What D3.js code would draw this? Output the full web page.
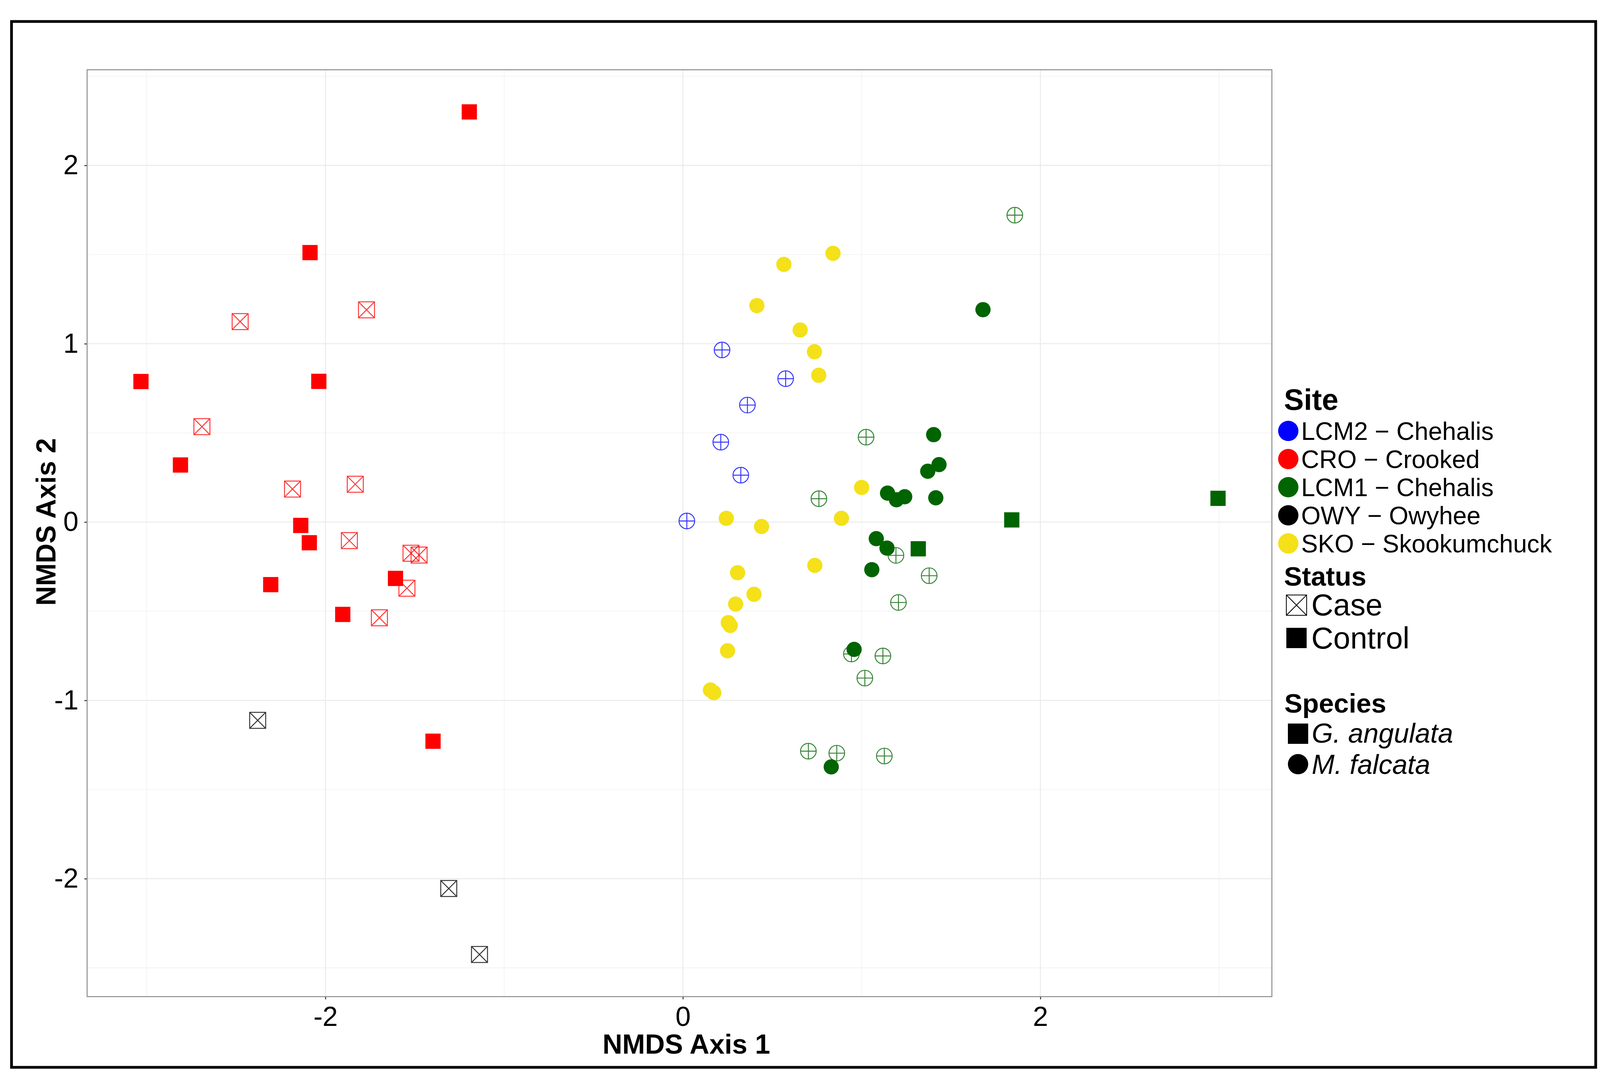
<!DOCTYPE html>
<html>
<head>
<meta charset="utf-8">
<script src="https://cdn.jsdelivr.net/npm/d3@7/dist/d3.min.js"></script>
<style>
  body { margin: 0; background: #fff; }
  text { font-family: "Liberation Sans", Arial, Helvetica, sans-serif; }
</style>
</head>
<body>
<script>
// NMDS scores, one array per site / status / species group
var croControlGa = [
  [-1.195, 2.300], [-2.086, 1.511], [-3.032, 0.788], [-2.037, 0.789], [-2.811, 0.320],
  [-2.138, -0.019], [-2.090, -0.116], [-2.306, -0.351], [-1.608, -0.316], [-1.903, -0.518],
  [-1.398, -1.229]
];
var croCaseGa = [
  [-2.477, 1.124], [-1.770, 1.190], [-2.691, 0.535], [-2.184, 0.185], [-1.833, 0.212],
  [-1.866, -0.104], [-1.521, -0.175], [-1.476, -0.185], [-1.544, -0.371], [-1.698, -0.537]
];
var owyCaseGa = [[-2.379, -1.112], [-1.310, -2.055], [-1.138, -2.425]];
var lcm2CaseMf = [
  [0.219, 0.965], [0.575, 0.804], [0.361, 0.656], [0.212, 0.448], [0.324, 0.263], [0.022, 0.006]
];
var skoControlMf = [
  [0.840, 1.507], [0.565, 1.445], [0.414, 1.214], [0.656, 1.077], [0.736, 0.955],
  [0.760, 0.823], [1.000, 0.194], [0.243, 0.021], [0.440, -0.025], [0.887, 0.021],
  [0.738, -0.243], [0.306, -0.284], [0.398, -0.405], [0.295, -0.460], [0.254, -0.564],
  [0.265, -0.580], [0.250, -0.722], [0.154, -0.942], [0.173, -0.957]
];
var lcm1ControlMf = [
  [1.679, 1.191], [1.403, 0.490], [1.433, 0.322], [1.370, 0.285], [1.145, 0.162],
  [1.195, 0.125], [1.241, 0.142], [1.415, 0.136], [1.082, -0.093], [1.142, -0.146],
  [1.057, -0.267], [0.958, -0.714], [0.830, -1.373]
];
var lcm1ControlGa = [[2.994, 0.133], [1.840, 0.012], [1.317, -0.150]];
var lcm1CaseMf = [
  [1.857, 1.721], [1.025, 0.476], [0.761, 0.131], [1.192, -0.187], [1.378, -0.301],
  [1.206, -0.451], [0.943, -0.740], [1.119, -0.751], [1.018, -0.875], [0.702, -1.285],
  [0.861, -1.296], [1.127, -1.312]
];

var siteKeys = ["LCM2", "CRO", "LCM1", "OWY", "SKO"];
var siteLabels = ["LCM2 \u2212 Chehalis", "CRO \u2212 Crooked", "LCM1 \u2212 Chehalis", "OWY \u2212 Owyhee", "SKO \u2212 Skookumchuck"];
var statusLabels = ["Case", "Control"];
var speciesLabels = ["G. angulata", "M. falcata"];

var xTickValues = [-2, 0, 2];
var xTickLabels = ["-2", "0", "2"];
var yTickValues = [-2, -1, 0, 1, 2];
var yTickLabels = ["-2", "-1", "0", "1", "2"];
var xMinor = [-3, -1, 1, 3];
var yMinor = [-2.5, -1.5, -0.5, 0.5, 1.5, 2.5];

// cases first so the filled controls sit on top
var groups = [
  { site: "CRO", status: "Case", species: "G. angulata", pts: croCaseGa },
  { site: "OWY", status: "Case", species: "G. angulata", pts: owyCaseGa },
  { site: "LCM2", status: "Case", species: "M. falcata", pts: lcm2CaseMf },
  { site: "LCM1", status: "Case", species: "M. falcata", pts: lcm1CaseMf },
  { site: "CRO", status: "Control", species: "G. angulata", pts: croControlGa },
  { site: "SKO", status: "Control", species: "M. falcata", pts: skoControlMf },
  { site: "LCM1", status: "Control", species: "M. falcata", pts: lcm1ControlMf },
  { site: "LCM1", status: "Control", species: "G. angulata", pts: lcm1ControlGa }
];

var points = [];
groups.forEach(function (g) {
  g.pts.forEach(function (p) {
    points.push({ x: p[0], y: p[1], site: g.site, status: g.status, species: g.species });
  });
});

var W = 4124, H = 2767;
var panel = { left: 223, right: 3256, top: 178.6, bottom: 2551 };

var color = d3.scaleOrdinal()
  .domain(siteKeys)
  .range(["#0000ff", "#ff0000", "#006400", "#000000", "#f4e11a"]);

// ggplot style 5% expansion of the data range
function expand(ext) {
  var d = (ext[1] - ext[0]) * 0.05;
  return [ext[0] - d, ext[1] + d];
}

var xScale = d3.scaleLinear()
  .domain(expand(d3.extent(points, function (d) { return d.x; })))
  .range([panel.left, panel.right]);
var yScale = d3.scaleLinear()
  .domain(expand(d3.extent(points, function (d) { return d.y; })))
  .range([panel.bottom, panel.top]);

var svg = d3.select("body").append("svg")
  .attr("width", W)
  .attr("height", H);

svg.append("rect").attr("width", W).attr("height", H).attr("fill", "#fff");

// grid
var grid = svg.append("g");
xMinor.forEach(function (v) {
  grid.append("line")
    .attr("x1", xScale(v)).attr("x2", xScale(v))
    .attr("y1", panel.top).attr("y2", panel.bottom)
    .attr("stroke", "#f2f2f2").attr("stroke-width", 1.6);
});
yMinor.forEach(function (v) {
  grid.append("line")
    .attr("x1", panel.left).attr("x2", panel.right)
    .attr("y1", yScale(v)).attr("y2", yScale(v))
    .attr("stroke", "#f2f2f2").attr("stroke-width", 1.6);
});
xTickValues.forEach(function (v) {
  grid.append("line")
    .attr("x1", xScale(v)).attr("x2", xScale(v))
    .attr("y1", panel.top).attr("y2", panel.bottom)
    .attr("stroke", "#ebebeb").attr("stroke-width", 2.6);
});
yTickValues.forEach(function (v) {
  grid.append("line")
    .attr("x1", panel.left).attr("x2", panel.right)
    .attr("y1", yScale(v)).attr("y2", yScale(v))
    .attr("stroke", "#ebebeb").attr("stroke-width", 2.6);
});

// axes
var xAxis = d3.axisBottom(xScale)
  .tickValues(xTickValues)
  .tickFormat(function (d, i) { return xTickLabels[i]; })
  .tickSize(7).tickPadding(18);
var yAxis = d3.axisLeft(yScale)
  .tickValues(yTickValues)
  .tickFormat(function (d, i) { return yTickLabels[i]; })
  .tickSize(7).tickPadding(15);

var gx = svg.append("g")
  .attr("transform", "translate(0," + panel.bottom + ")")
  .call(xAxis);
var gy = svg.append("g")
  .attr("transform", "translate(" + panel.left + ",0)")
  .call(yAxis);

[gx, gy].forEach(function (g) {
  g.select(".domain").remove();
  g.selectAll(".tick line").attr("stroke", "#333").attr("stroke-width", 2.5);
  g.selectAll(".tick text")
    .attr("fill", "#000")
    .style("font-family", "'Liberation Sans', Arial, sans-serif")
    .style("font-size", "70px");
});

// points
var marks = svg.append("g");
points.forEach(function (d) {
  var c = color(d.site);
  var g = marks.append("g")
    .attr("transform", "translate(" + xScale(d.x) + "," + yScale(d.y) + ")");
  if (d.species === "G. angulata") {
    if (d.status === "Control") {
      g.append("rect").attr("x", -19.5).attr("y", -19.5)
        .attr("width", 39).attr("height", 39).attr("fill", c);
    } else {
      var s = 20.5;
      g.append("rect").attr("x", -s).attr("y", -s)
        .attr("width", 2 * s).attr("height", 2 * s)
        .attr("fill", "none").attr("stroke", c).attr("stroke-width", 2.4);
      g.append("path")
        .attr("d", "M" + (-s) + "," + (-s) + "L" + s + "," + s + "M" + s + "," + (-s) + "L" + (-s) + "," + s)
        .attr("stroke", c).attr("stroke-width", 2.4);
      g.attr("opacity", 0.8);
    }
  } else {
    if (d.status === "Control") {
      g.append("circle").attr("r", 19.5).attr("fill", c);
    } else {
      var r = 20;
      g.append("circle").attr("r", r)
        .attr("fill", "none").attr("stroke", c).attr("stroke-width", 2.4);
      g.append("path")
        .attr("d", "M" + (-r) + ",0L" + r + ",0M0," + (-r) + "L0," + r)
        .attr("stroke", c).attr("stroke-width", 2.4);
      g.attr("opacity", 0.8);
    }
  }
});

// panel border
svg.append("rect")
  .attr("x", panel.left).attr("y", panel.top)
  .attr("width", panel.right - panel.left).attr("height", panel.bottom - panel.top)
  .attr("fill", "none").attr("stroke", "#8c8c8c").attr("stroke-width", 2.5);

// axis titles
svg.append("text")
  .attr("x", 1757).attr("y", 2697)
  .attr("text-anchor", "middle")
  .attr("font-weight", "bold").attr("font-size", 70)
  .text("NMDS Axis 1");
svg.append("text")
  .attr("transform", "translate(142,1336) rotate(-90)")
  .attr("text-anchor", "middle")
  .attr("font-weight", "bold").attr("font-size", 70)
  .text("NMDS Axis 2");

// legend
var leg = svg.append("g");
leg.append("text").attr("x", 3287).attr("y", 1049)
  .attr("font-weight", "bold").attr("font-size", 76).text("Site");
siteKeys.forEach(function (k, i) {
  var cy = 1103 + i * 72;
  leg.append("circle").attr("cx", 3298).attr("cy", cy).attr("r", 26).attr("fill", color(k));
  leg.append("text").attr("x", 3331).attr("y", cy + 23)
    .attr("font-size", 64).text(siteLabels[i]);
});

leg.append("text").attr("x", 3287).attr("y", 1499)
  .attr("font-weight", "bold").attr("font-size", 69).text("Status");
var sq = 26;
var caseG = leg.append("g").attr("transform", "translate(3319,1549)");
caseG.append("rect").attr("x", -sq).attr("y", -sq).attr("width", 2 * sq).attr("height", 2 * sq)
  .attr("fill", "none").attr("stroke", "#000").attr("stroke-width", 2);
caseG.append("path")
  .attr("d", "M" + (-sq) + "," + (-sq) + "L" + sq + "," + sq + "M" + sq + "," + (-sq) + "L" + (-sq) + "," + sq)
  .attr("stroke", "#000").attr("stroke-width", 2);
leg.append("text").attr("x", 3357).attr("y", 1575).attr("font-size", 78).text(statusLabels[0]);
leg.append("rect").attr("x", 3319 - sq).attr("y", 1633 - sq).attr("width", 2 * sq).attr("height", 2 * sq)
  .attr("fill", "#000");
leg.append("text").attr("x", 3357).attr("y", 1660).attr("font-size", 78).text(statusLabels[1]);

leg.append("text").attr("x", 3288).attr("y", 1824)
  .attr("font-weight", "bold").attr("font-size", 69).text("Species");
leg.append("rect").attr("x", 3323 - sq).attr("y", 1878 - sq).attr("width", 2 * sq).attr("height", 2 * sq)
  .attr("fill", "#000");
leg.append("text").attr("x", 3358).attr("y", 1901).attr("font-size", 70)
  .attr("font-style", "italic").text(speciesLabels[0]);
leg.append("circle").attr("cx", 3323).attr("cy", 1956).attr("r", 26).attr("fill", "#000");
leg.append("text").attr("x", 3358).attr("y", 1981).attr("font-size", 70)
  .attr("font-style", "italic").text(speciesLabels[1]);

// outer frame
svg.append("rect")
  .attr("x", 29.5).attr("y", 55)
  .attr("width", 4085 - 29.5).attr("height", 2732 - 55)
  .attr("fill", "none").attr("stroke", "#000").attr("stroke-width", 7);
</script>
</body>
</html>
